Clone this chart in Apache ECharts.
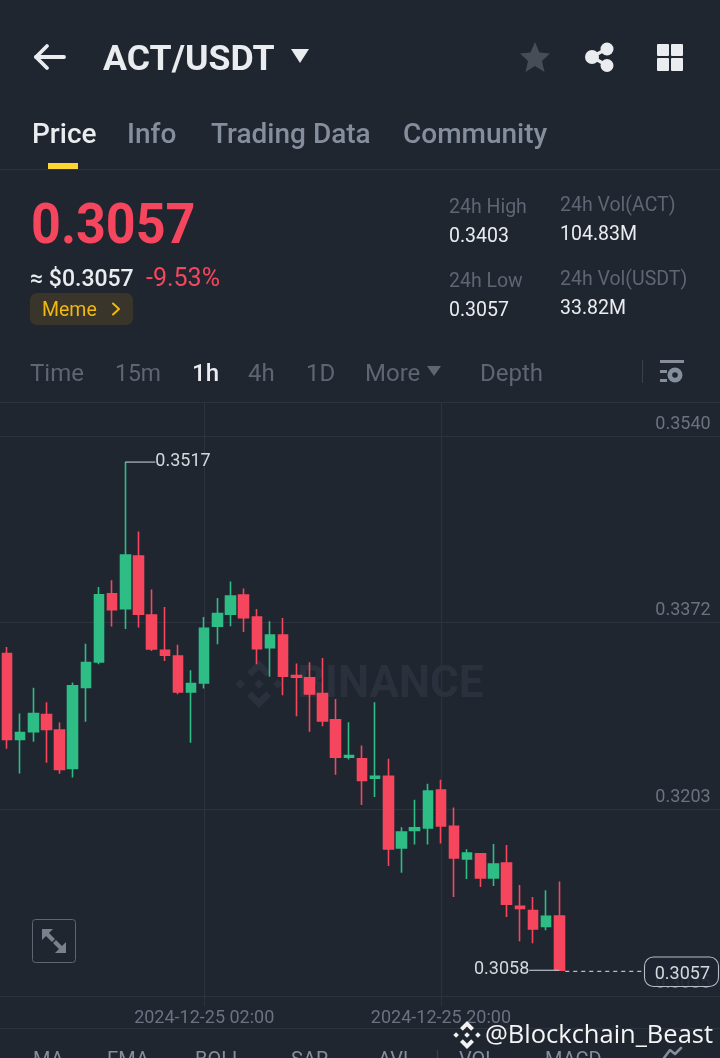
<!DOCTYPE html>
<html><head><meta charset="utf-8">
<style>html,body{margin:0;padding:0;background:#1f2630;overflow:hidden}#c{width:720px;height:1058px}</style>
<script src="https://cdn.jsdelivr.net/npm/echarts@6/dist/echarts.min.js"></script>
</head><body><div id="c"></div>
<script>
const categories=['2024-12-24 11:00','2024-12-24 12:00','2024-12-24 13:00','2024-12-24 14:00','2024-12-24 15:00','2024-12-24 16:00','2024-12-24 17:00','2024-12-24 18:00','2024-12-24 19:00','2024-12-24 20:00','2024-12-24 21:00','2024-12-24 22:00','2024-12-24 23:00','2024-12-25 00:00','2024-12-25 01:00','2024-12-25 02:00','2024-12-25 03:00','2024-12-25 04:00','2024-12-25 05:00','2024-12-25 06:00','2024-12-25 07:00','2024-12-25 08:00','2024-12-25 09:00','2024-12-25 10:00','2024-12-25 11:00','2024-12-25 12:00','2024-12-25 13:00','2024-12-25 14:00','2024-12-25 15:00','2024-12-25 16:00','2024-12-25 17:00','2024-12-25 18:00','2024-12-25 19:00','2024-12-25 20:00','2024-12-25 21:00','2024-12-25 22:00','2024-12-25 23:00','2024-12-26 00:00','2024-12-26 01:00','2024-12-26 02:00','2024-12-26 03:00','2024-12-26 04:00','2024-12-26 05:00','2024-12-26 06:00','2024-12-26 07:00','2024-12-26 08:00','2024-12-26 09:00','2024-12-26 10:00','2024-12-26 11:00','2024-12-26 12:00','2024-12-26 13:00','2024-12-26 14:00','2024-12-26 15:00','2024-12-26 16:00','2024-12-26 17:00'];
const opens=[0.33440,0.32665,0.32734,0.32890,0.32749,0.32403,0.33134,0.33365,0.33981,0.33846,0.34321,0.33789,0.33470,0.33419,0.33094,0.33176,0.33687,0.33795,0.33969,0.33771,0.33494,0.33608,0.33242,0.33221,0.33079,0.32842,0.32505,0.32490,0.32316,0.32331,0.31685,0.31844,0.31865,0.32208,0.31880,0.31585,0.31631,0.31414,0.31549,0.31159,0.31120,0.30975,0.31071];
const closes=[0.32665,0.32728,0.32899,0.32755,0.32394,0.33149,0.33359,0.33972,0.33837,0.34330,0.33795,0.33482,0.33425,0.33094,0.33170,0.33669,0.33801,0.33960,0.33765,0.33485,0.33608,0.33236,0.33227,0.33076,0.32833,0.32505,0.32520,0.32295,0.32331,0.31676,0.31829,0.31868,0.32199,0.31883,0.31594,0.31640,0.31414,0.31540,0.31177,0.31138,0.30954,0.31068,0.30580];
const lows=[0.32580,0.32358,0.32644,0.32454,0.32355,0.32322,0.32824,0.33344,0.33684,0.33663,0.33675,0.33464,0.33374,0.33073,0.32635,0.33125,0.33524,0.33687,0.33636,0.33344,0.33230,0.33064,0.32875,0.32734,0.32785,0.32346,0.32484,0.32072,0.32144,0.31522,0.31462,0.31715,0.31715,0.31724,0.31243,0.31405,0.31333,0.31342,0.31062,0.30843,0.30825,0.30942,0.30580];
const highs=[0.33500,0.32899,0.33131,0.33001,0.32818,0.33179,0.33530,0.34041,0.34102,0.35170,0.34543,0.34020,0.33861,0.33521,0.33290,0.33771,0.33942,0.34092,0.34029,0.33843,0.33732,0.33762,0.33350,0.33362,0.33401,0.33031,0.32821,0.32610,0.33001,0.32490,0.31871,0.32121,0.32265,0.32301,0.32051,0.31673,0.31640,0.31721,0.31712,0.31351,0.31243,0.31303,0.31381];
const yTicks=[0.3035,0.3203,0.3372,0.3540];
const xTickLabels=['2024-12-25 02:00','2024-12-25 20:00'];
const maxIndex=9, maxValue=0.3517, minIndex=42, minValue=0.3058, lastIndex=42, lastPrice=0.3057;

const BG='#1f2630',UP='#2ebd85',DOWN='#f6465d',LINE='#2d333e',DIM='#5e6673',GREY='#848e9c',LIGHT='#eaecef';
const FF='Roboto, sans-serif';
const T=(x,y,text,size,fill,weight,align,sx)=>({type:'text',silent:true,z:10,x,y:y+4,scaleX:sx||1,style:{x:0,y:0,text,fill,fontFamily:FF,fontSize:size,fontWeight:weight||400,textAlign:align||'left',textVerticalAlign:'middle'}});
const R=(x,y,w,h,fill,r)=>({type:'rect',silent:true,z:10,shape:{x,y,width:w,height:h,r:r||0},style:{fill}});
const P=(points,fill,z)=>({type:'polygon',silent:true,z:z||10,shape:{points},style:{fill}});
const L=(pts,stroke,w)=>({type:'polyline',silent:true,z:10,shape:{points:pts},style:{stroke,fill:'none',lineWidth:w,lineCap:'round',lineJoin:'round'}});
const C=(cx,cy,r,fill)=>({type:'circle',silent:true,z:10,shape:{cx,cy,r},style:{fill}});
function logo(cx,cy,s,fill,z){
  const d=(x,y,r)=>P([[x,y-r],[x+r,y],[x,y+r],[x-r,y]],fill,z);
  return [
    P([[cx,cy-s],[cx+s*.5,cy-s*.5],[cx+s*.3,cy-s*.3],[cx,cy-s*.6],[cx-s*.3,cy-s*.3],[cx-s*.5,cy-s*.5]],fill,z),
    P([[cx,cy+s],[cx+s*.5,cy+s*.5],[cx+s*.3,cy+s*.3],[cx,cy+s*.6],[cx-s*.3,cy+s*.3],[cx-s*.5,cy+s*.5]],fill,z),
    d(cx,cy,s*.2),d(cx-s*.78,cy,s*.2),d(cx+s*.78,cy,s*.2)
  ];
}
const graphics=[
  R(0,169,720,1,LINE),R(0,402,720,1,LINE),R(0,1028,720,1,LINE),
  L([[36,57],[64,57]],'#eaecef',3.8),L([[47,46],[36,57],[47,68]],'#eaecef',3.8),
  T(103,57,'ACT/USDT',35,LIGHT,700,'left',1.02),
  P([[291,49],[309,49],[300,63]],LIGHT),
  P([[535,42],[539.5,52.5],[550,53.5],[542,61],[544.5,72],[535,66],[525.5,72],[528,61],[520,53.5],[530.5,52.5]],'#474d57'),
  L([[608,48],[592,57],[608,66]],LIGHT,3.2),C(607,49,6.5,LIGHT),C(592,57,7,LIGHT),C(607,65.5,6.5,LIGHT),
  R(657,44,12,12,LIGHT,1),R(671,44,12,12,LIGHT,1),R(657,58,12,13,LIGHT,1),R(671,58,12,13,LIGHT,1),
  T(32,132,'Price',28,LIGHT,500),T(127,132,'Info',28,GREY,500),T(211,132,'Trading Data',28,GREY,500),T(403,132,'Community',28,GREY,500),
  R(48,163,30,6,'#fcd535'),
  T(31,225,'0.3057',56,DOWN,700,'left',0.93),
  T(30,276,'≈ $0.3057',23,LIGHT,500),T(146,276,'-9.53%',25,DOWN,400),
  R(30,293,103,32,'#3a352a',7),T(42,307,'Meme',19.5,'#f0b90b',400),L([[113,303.5],[119,309],[113,314.5]],'#f0b90b',2),
  T(449,204,'24h High',19.5,DIM),T(449,233,'0.3403',19.5,LIGHT),T(449,278,'24h Low',19.5,DIM),T(449,307,'0.3057',19.5,LIGHT),
  T(560,202,'24h Vol(ACT)',19.5,DIM),T(560,231,'104.83M',19.5,LIGHT),T(560,276,'24h Vol(USDT)',19.5,DIM),T(560,305,'33.82M',19.5,LIGHT),
  T(30,371,'Time',24,DIM),T(115,371,'15m',23,DIM),T(192,371,'1h',24,LIGHT,500),T(248,371,'4h',24,DIM),T(306,371,'1D',24,DIM),T(365,371,'More',24,DIM),
  P([[427,366],[441,366],[434,376]],DIM),T(480,371,'Depth',24,DIM),R(642,360,1,23,'#3a404b'),
  R(660,360,24,3,'#848e9c'),R(660,370,7,3,'#848e9c'),R(660,379,7,3,'#848e9c'),C(675,375,7.5,'#848e9c'),C(675,375,2.8,BG),
  {type:'rect',silent:true,z:10,shape:{x:32.5,y:919.5,width:43,height:43,r:3},style:{fill:'none',stroke:'#5e6673',lineWidth:1}},
  P([[42,929],[53,929],[49,933],[55,939],[52,942],[46,936],[42,940]],'#7a818c'),
  P([[66,953],[55,953],[59,949],[53,943],[56,940],[62,946],[66,942]],'#7a818c'),
  T(33,1057,'MA',20,GREY),T(107,1057,'EMA',20,GREY),T(195,1057,'BOLL',20,GREY),T(291,1057,'SAR',20,GREY),T(378,1057,'AVL',20,GREY),T(459,1057,'VOL',20,GREY),T(545,1057,'MACD',20,GREY),
  R(437,1050,1,8,'#3a404b'),
  L([[664,1058],[670,1050],[675,1054],[681,1048]],GREY,2.5),
  ...logo(259,684,24,'#2a313c',1),
  {type:'text',silent:true,z:1,style:{x:297,y:686,text:'BINANCE',fill:'#2a313c',fontFamily:FF,fontSize:44,fontWeight:700,textVerticalAlign:'middle'}},
  ...logo(467,1035,14,'#f2f2f2',20),
  {type:'text',silent:true,z:20,x:485,y:1036,scaleX:0.98,style:{x:0,y:0,text:'@Blockchain_Beast',fill:'#f5f5f5',fontFamily:'"Open Sans", sans-serif',fontSize:26,textVerticalAlign:'middle'}}
];

const chart=echarts.init(document.getElementById('c'),null,{renderer:'canvas',width:720,height:1058});
chart.setOption({
  animation:false,backgroundColor:BG,
  grid:{left:0.4,top:402.5,width:723.25,height:604,outerBoundsMode:'none'},
  xAxis:{type:'category',data:categories,boundaryGap:true,
    axisLine:{show:false},axisTick:{show:false},
    axisLabel:{interval:(i,v)=>xTickLabels.includes(v),color:'#6b7280',fontSize:18,fontFamily:FF,margin:2,verticalAlign:'top',lineHeight:20},
    splitLine:{show:true,interval:(i,v)=>xTickLabels.includes(v),alignWithLabel:true,lineStyle:{color:LINE,width:1}}},
  yAxis:{type:'value',position:'right',min:0.30253,max:0.35708,scale:true,
    axisLine:{show:false},
    axisTick:{show:false,customValues:yTicks},
    axisLabel:{inside:true,customValues:yTicks,formatter:v=>v.toFixed(4),color:'#6b7280',fontSize:18,fontFamily:FF,margin:13,verticalAlign:'bottom',padding:[0,0,3,0]},
    splitLine:{show:true,lineStyle:{color:LINE,width:1}}},
  graphic:{elements:graphics},
  series:[
    {type:'candlestick',barWidth:10,data:opens.map((o,i)=>[o,closes[i],lows[i],highs[i]]),
     itemStyle:{color:UP,color0:DOWN,borderColor:UP,borderColor0:DOWN,borderWidth:1.6}},
    {type:'custom',coordinateSystem:'cartesian2d',z:6,clip:false,silent:true,
     data:[[maxIndex,maxValue],[minIndex,minValue],[lastIndex,lastPrice]],
     renderItem(params,api){
       const [x,y]=api.coord([api.value(0),api.value(1)]);
       const txt={fill:'#d5d9de',fontFamily:FF,fontSize:18,textVerticalAlign:'middle'};
       const ln={stroke:'#b7bdc6',lineWidth:1.2};
       if(params.dataIndex===0) return {type:'group',children:[
         {type:'line',shape:{x1:x,y1:y,x2:x+30,y2:y},style:ln},
         {type:'text',style:{...txt,x:x+30,y:y-1,text:maxValue.toFixed(4)}}]};
       if(params.dataIndex===1) return {type:'group',children:[
         {type:'line',shape:{x1:x,y1:y,x2:x-30,y2:y},style:ln},
         {type:'text',style:{...txt,x:x-30,y:y-1,text:minValue.toFixed(4),textAlign:'right'}}]};
       return {type:'group',children:[
         {type:'line',shape:{x1:x+6,y1:y,x2:644,y2:y},style:{stroke:'#b7bdc6',lineWidth:1.2,lineDash:[4,4]}},
         {type:'rect',shape:{x:644.5,y:957,width:74,height:29.5,r:9},style:{fill:'rgba(31,38,48,0.88)',stroke:'#b7bdc6',lineWidth:1.1}},
         {type:'text',style:{...txt,x:710,y:y+3,text:lastPrice.toFixed(4),textAlign:'right'}}]};
     }}
  ]
});
</script></body></html>
